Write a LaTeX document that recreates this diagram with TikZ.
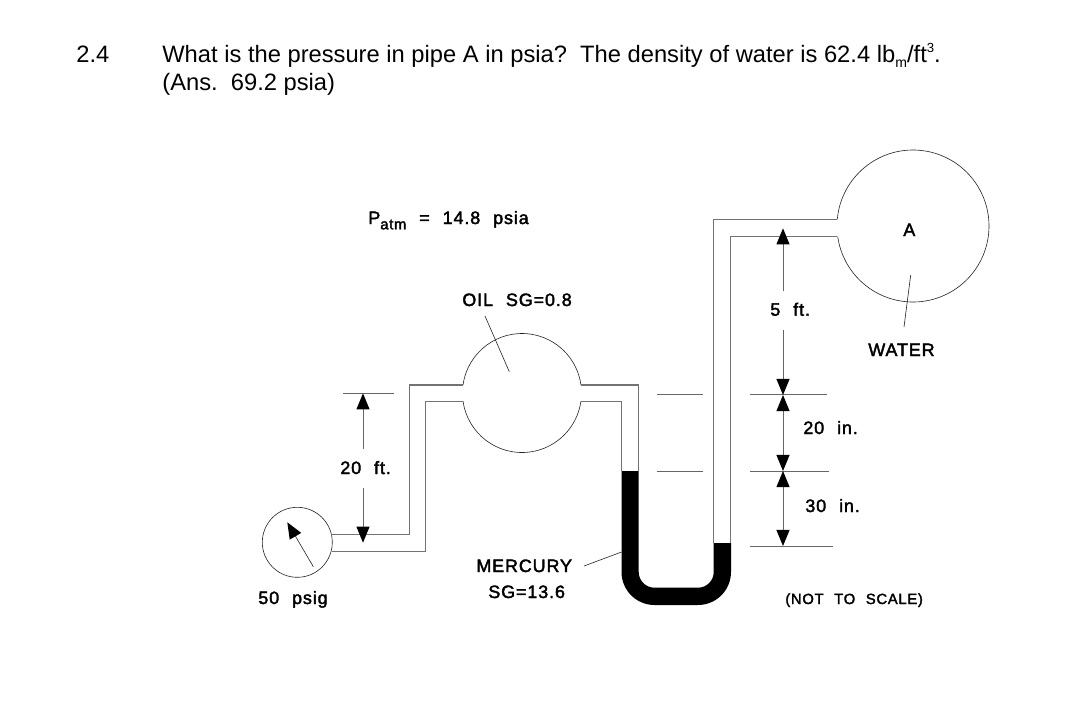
\documentclass[tikz,border=0pt]{standalone}
\usepackage{fontspec}
\setmainfont{Liberation Sans}
\newfontfamily\labelfont[LetterSpace=5,WordSpace=1.1,FakeBold=2.2]{Liberation Sans}
\usetikzlibrary{arrows.meta}
\tikzset{
  pipe/.style={draw=black!55,line width=0.6pt},
  thinline/.style={draw=black!85,line width=0.35pt},
  level/.style={draw=black!60,line width=0.5pt},
  dim/.style={draw=black!60,line width=0.55pt},
  tip/.style={-{Triangle[length=9.2pt,width=7.6pt,color=black,line width=0pt]}},
  tiptip/.style={{Triangle[length=9.2pt,width=7.6pt,color=black,line width=0pt]}-{Triangle[length=9.2pt,width=7.6pt,color=black,line width=0pt]}},
  headtext/.style={anchor=base west,inner sep=0pt,font=\fontsize{13.5}{15}\selectfont},
  lbl/.style={anchor=base west,inner sep=0pt,font=\labelfont\fontsize{10.2}{12}\selectfont},
  dimtext/.style={anchor=base west,inner sep=0pt,text height=14pt,text depth=8pt,font=\labelfont\fontsize{10.2}{12}\selectfont}
}
\begin{document}
\begin{tikzpicture}[x=0.02cm,y=-0.02cm]
\useasboundingbox (0,0) rectangle (1080,718);
\node[headtext] (num) at (76,62) {2.4};
\node[headtext] (line1) at (162,62) {What is the pressure in pipe A in psia?\ \ The density of water is 62.4 lb\raisebox{-3pt}{\fontsize{8}{8}\selectfont m}/ft\raisebox{5.2pt}{\fontsize{7.5}{8}\selectfont 3}.};
\node[headtext] (line2) at (162,90) {(Ans.\ \ 69.2 psia)};
\coordinate (gauge) at (297.3,542.3);
\coordinate (oil) at (522,393);
\coordinate (tank) at (913,226);
\draw[thinline] (gauge) circle (35);
\draw[thinline] (oil) ++(172:59.5) arc (172:8:59.5);
\draw[thinline] (oil) ++(188:59.5) arc (188:352:59.5);
\draw[thinline] (tank) ++(185:76) arc (185:532:76);
\draw[pipe] (330.8,534.7) -- (409.3,534.7) -- (409.3,385) -- (463,385);
\draw[pipe] (331.5,551.3) -- (425.3,551.3) -- (425.3,401.7) -- (463,401.7);
\draw[pipe] (581,385) -- (638.7,385) -- (638.7,471);
\draw[pipe] (581,401.7) -- (621.7,401.7) -- (621.7,471);
\draw[pipe] (713.7,543) -- (713.7,219.5) -- (837,219.5);
\draw[pipe] (730.7,543) -- (730.7,236.5) -- (837,236.5);
\fill[black] (621.5,471) -- (621.5,572) arc (180:90:33) -- (698,605) arc (90:0:33)
  -- (731,543) -- (713.7,543) -- (713.7,572) arc (0:90:15.7) -- (654.5,587.7)
  arc (90:180:15.8) -- (638.7,471) -- cycle;
\coordinate (needle) at (313.3,566.7);
\coordinate (needletip) at (287.3,522.3);
\draw[thinline,tip] (needle) -- (needletip);
\draw[level] (342.7,393.3) -- (394,393.3);
\draw[level] (657,394.5) -- (703,394.5);
\draw[level] (750,394.5) -- (827,394.5);
\draw[level] (657,471) -- (703,471);
\draw[level] (750,471) -- (829,471);
\draw[level] (750,546) -- (833,546);
\coordinate (ftA) at (363,393.3);
\coordinate (ftB) at (363,542.7);
\coordinate (fiveA) at (783,228.3);
\coordinate (fiveB) at (783,395);
\coordinate (inA) at (783,471);
\coordinate (inB) at (783,546);
\node[dimtext] (twentyft) at (340,474) {20\ \ ft.};
\node[dimtext] (fiveft) at (770,315.7) {5\ \ ft.};
\draw[dim,tip] (twentyft.north -| ftA) -- (ftA);
\draw[dim,tip] (twentyft.south -| ftA) -- (ftB);
\draw[dim,tip] (fiveft.north -| fiveA) -- (fiveA);
\draw[dim,tip] (fiveft.south -| fiveA) -- (fiveB);
\draw[dim,tiptip] (fiveB) -- (inA);
\draw[dim,tiptip] (inA) -- (inB);
\node[lbl] (twentyin) at (803,434) {20\ \ in.};
\node[lbl] (thirtyin) at (805,512) {30\ \ in.};
\node[lbl] (patm) at (368,224) {P\raisebox{-3pt}{\fontsize{8.4}{9}\selectfont atm}\ \ =\ \ 14.8\ \ psia};
\node[lbl] (oillbl) at (462,306) {OIL\ \ SG=0.8};
\node[lbl] (alabel) at (903,236) {A};
\node[lbl] (waterlbl) at (868,356) {WATER};
\node[lbl] (merclbl) at (476,572) {MERCURY};
\node[lbl] (sglbl) at (488,598) {SG=13.6};
\node[lbl] (psiglbl) at (258,604) {50\ \ psig};
\node[lbl,font=\labelfont\fontsize{8.4}{11}\selectfont] (notscale) at (785,604) {(NOT\ \ TO\ \ SCALE)};
\coordinate (oilend) at (509.3,371.7);
\coordinate (oilstart) at (485,316);
\coordinate (waterend) at (910.7,275);
\coordinate (waterstart) at (904,327);
\coordinate (mercend) at (621.5,552);
\coordinate (mercstart) at (584,566);
\draw[thinline] (oilstart) -- (oilend);
\draw[thinline] (waterstart) -- (waterend);
\draw[thinline] (mercstart) -- (mercend);
\end{tikzpicture}
\end{document}
